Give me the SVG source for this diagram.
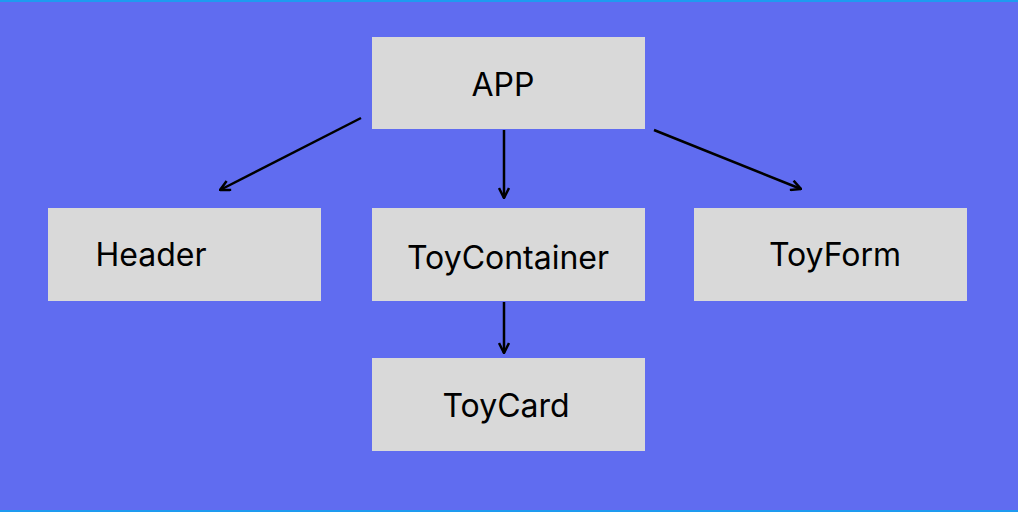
<svg xmlns="http://www.w3.org/2000/svg" width="1018" height="512" viewBox="0 0 1018 512">
<defs>
<style>
.box{fill:#D9D9D9}
.t{font-family:Inter,"Liberation Sans",sans-serif;font-size:32px;fill:#000;text-anchor:middle;dominant-baseline:central}
.c{stroke:#000;stroke-width:2.5;fill:none;marker-end:url(#a)}
</style>
<marker id="a" viewBox="0 0 12 12" refX="11" refY="6" markerWidth="12" markerHeight="12" markerUnits="userSpaceOnUse" orient="auto">
<path d="M1,1 L11,6 L1,11" fill="none" stroke="#000" stroke-width="2.5"/>
</marker>
</defs>
<rect width="1018" height="512" fill="#606CF0"/>
<rect x="0" y="0" width="1018" height="2" fill="#1E9BF0"/>
<rect x="0" y="510" width="1018" height="2" fill="#1E9BF0"/>
<g id="app"><rect class="box" x="372" y="37" width="273" height="92"/><text class="t" x="503" y="84">APP</text></g>
<g id="header"><rect class="box" x="48" y="208" width="273" height="93"/><text class="t" x="151" y="254">Header</text></g>
<g id="toycontainer"><rect class="box" x="372" y="208" width="273" height="93"/><text class="t" x="508" y="257">ToyContainer</text></g>
<g id="toyform"><rect class="box" x="694" y="208" width="273" height="93"/><text class="t" x="835" y="254">ToyForm</text></g>
<g id="toycard"><rect class="box" x="372" y="358" width="273" height="93"/><text class="t" x="506" y="405">ToyCard</text></g>
<g id="connectors">
<path class="c" d="M361,118 L220,190"/>
<path class="c" d="M504,130 L504,198"/>
<path class="c" d="M654,130 L801,189"/>
<path class="c" d="M504,302 L504,353"/>
</g>
</svg>
